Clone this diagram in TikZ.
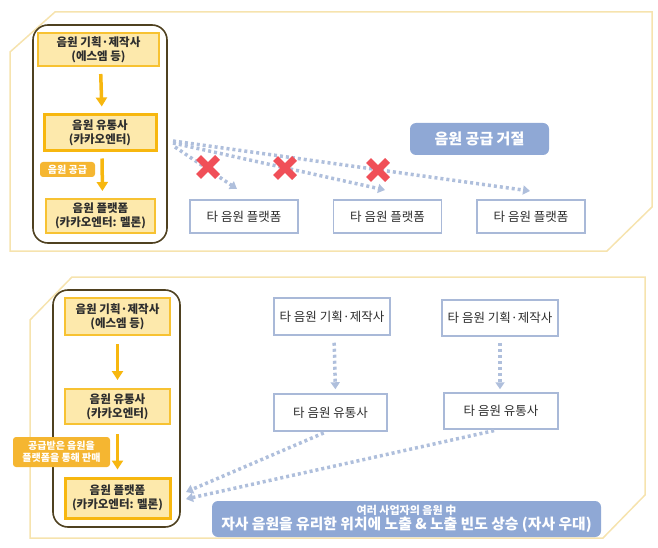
\documentclass[tikz,border=0pt]{standalone}
\usepackage{fontspec}
\setmainfont{Noto Sans CJK KR}
\usetikzlibrary{arrows.meta,calc}
\definecolor{panelc}{HTML}{F6E3AE}
\definecolor{olivec}{HTML}{4F4120}
\definecolor{ylfill}{HTML}{FDE9AC}
\definecolor{ylline}{HTML}{F7C232}
\definecolor{ylarrow}{HTML}{F7B70F}
\definecolor{lblfill}{HTML}{F5B631}
\definecolor{bgline}{HTML}{A9B9D8}
\definecolor{dotc}{HTML}{AFBFDC}
\definecolor{bluefill}{HTML}{8FA8D5}
\definecolor{redx}{HTML}{F04F58}
\definecolor{txtc}{HTML}{2E2E2E}
\tikzset{
  panel/.style={draw=panelc, line width=1.5pt},
  group/.style={draw=olivec, line width=1.6pt, rounded corners=15pt},
  ybox/.style={draw=ylline, fill=ylfill, line width=2pt, inner sep=0pt, align=center,
    text=txtc, font=\fontsize{11.5}{14}\selectfont\bfseries},
  ythick/.style={ybox, line width=3pt, draw=ylarrow},
  wbox/.style={draw=bgline, fill=white, line width=1.5pt, inner sep=0pt, align=center,
    text=txtc, font=\fontsize{12.5}{14}\selectfont},
  bbox/.style={fill=bluefill, draw=none, rounded corners=6pt, inner sep=0pt, align=center,
    text=white, font=\bfseries},
  lbl/.style={fill=lblfill, rounded corners=3pt, inner sep=0pt, align=center,
    text=white, font=\fontsize{10}{11}\selectfont\bfseries},
  yarrow/.style={draw=ylarrow, line width=3.5pt, -{Triangle[width=11pt,length=9pt]}},
  dotarrow/.style={draw=dotc, line width=3.5pt, dash pattern=on 3pt off 3pt,
    -{Triangle[width=9pt,length=7pt]}},
  xstroke/.style={draw=redx, line width=7pt}
}
\begin{document}
\begin{tikzpicture}[x=1pt,y=-1pt]
\useasboundingbox (0,0) rectangle (658,548);
% panels
\draw[panel] (55,12) -- (652,12) -- (652,207) -- (607,251) -- (10,251) -- (10,52) -- cycle;
\draw[panel] (72,277) -- (645,277) -- (645,495) -- (603,538) -- (30,538) -- (30,320) -- cycle;

% ---------- top panel ----------
\draw[group] (33,25) rectangle (167,243);
\node[ybox, minimum width=121pt, minimum height=33pt] (T1) at (98.5,49.5) {음원 기획·제작사\\(에스엠 등)};
\node[ythick, minimum width=112pt, minimum height=36pt] (T2) at (100,133) {음원 유통사\\(카카오엔터)};
\node[ybox, minimum width=109pt, minimum height=34pt] (T3) at (100.5,216) {음원 플랫폼\\(카카오엔터: 멜론)};
\draw[yarrow, shorten <=7pt, shorten >=7pt] ([xshift=2pt]T1.south) -- ([xshift=2pt]T2.north);
\draw[yarrow, shorten <=6pt, shorten >=7pt] ([xshift=2pt]T2.south) -- ([xshift=2pt]T3.north);
\node[lbl, minimum width=55pt, minimum height=15pt] (L1) at (67.5,169.5) {음원 공급};

\node[wbox, minimum width=108pt, minimum height=33pt] (O1) at (244,216.5) {타 음원 플랫폼};
\node[wbox, minimum width=108pt, minimum height=33pt] (O2) at (387.5,216.5) {타 음원 플랫폼};
\node[wbox, minimum width=108pt, minimum height=33pt] (O3) at (531,216.5) {타 음원 플랫폼};
\node[bbox, minimum width=139pt, minimum height=32pt, font=\fontsize{15}{17}\selectfont\bfseries] (R) at (479.5,139) {음원 공급 거절};

\coordinate (s1) at (175,147);
\coordinate (s2) at (173,143);
\coordinate (s3) at (173,141);
\coordinate (e1) at (237,189);
\coordinate (e2) at (385,190);
\coordinate (e3) at (530,191);
\draw[dotarrow] (s1) -- (e1);
\draw[dotarrow] (s2) -- (e2);
\draw[dotarrow] (s3) -- (e3);
\foreach \cx/\cy in {208/167, 285/168, 378/170}{
  \draw[xstroke] (\cx-9.5,\cy-9.5) -- (\cx+9.5,\cy+9.5);
  \draw[xstroke] (\cx-9.5,\cy+9.5) -- (\cx+9.5,\cy-9.5);
}

% ---------- bottom panel ----------
\draw[group] (53,290) rectangle (180,527);
\node[ybox, minimum width=105pt, minimum height=37pt] (B1) at (117.5,316.5) {음원 기획·제작사\\(에스엠 등)};
\node[ybox, minimum width=105pt, minimum height=35pt] (B2) at (117.5,406.5) {음원 유통사\\(카카오엔터)};
\node[ythick, minimum width=105pt, minimum height=40pt] (B3) at (117.5,498) {음원 플랫폼\\(카카오엔터: 멜론)};
\draw[yarrow, shorten <=8pt, shorten >=8pt] (B1.south) -- (B2.north);
\draw[yarrow, shorten <=9pt, shorten >=7pt] (B2.south) -- (B3.north);
\node[lbl, minimum width=97pt, minimum height=30pt, font=\fontsize{10}{12.5}\selectfont\bfseries] (L2) at (61.5,452) {공급받은 음원을\\플랫폼을 통해 판매};

\node[wbox, minimum width=116pt, minimum height=37pt] (P1) at (332,316.5) {타 음원 기획·제작사};
\node[wbox, minimum width=116pt, minimum height=36pt] (P2) at (500,318) {타 음원 기획·제작사};
\node[wbox, minimum width=113pt, minimum height=37pt] (D1) at (330.5,412.5) {타 음원 유통사};
\node[wbox, minimum width=114pt, minimum height=36pt] (D2) at (501,411) {타 음원 유통사};
\draw[dotarrow, shorten <=7pt, shorten >=4pt] ([xshift=2pt]P1.south) -- ([xshift=3.5pt]P1.south |- D1.north);
\draw[dotarrow, shorten <=6pt, shorten >=3pt] (P2.south) -- (P2.south |- D2.north);
\coordinate (f1) at (186,492);
\coordinate (f2) at (186,499);
\draw[dotarrow, shorten <=3pt] ([xshift=-4pt]D1.south) -- (f1);
\draw[dotarrow, shorten <=4pt] ([xshift=-3pt]D2.south) -- (f2);
\node[bbox, minimum width=389pt, minimum height=36pt] (W) at (406.5,519) {%
  {\fontsize{11}{12}\selectfont 여러 사업자의 음원 中}\\[1pt]
  {\fontsize{14.8}{15}\selectfont 자사 음원을 유리한 위치에 노출 \& 노출 빈도 상승 (자사 우대)}};
\end{tikzpicture}
\end{document}
